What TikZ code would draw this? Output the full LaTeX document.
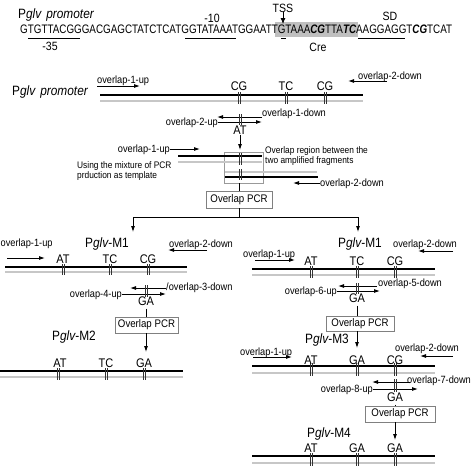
\documentclass[tikz,border=0pt]{standalone}
\usepackage{fontspec}
\setmainfont{Liberation Sans}[FakeStretch=0.88]
\usetikzlibrary{arrows.meta}
\newcommand\pgl{P{\itshape glv}}
\newcommand\bcg[1]{{\bfseries\itshape #1}}
\tikzset{
  dna/.style={line width=1.2pt, black},
  dnag/.style={line width=2.4pt, black!22},
  tk/.style={line width=0.5pt, black!80},
  prim/.style={-{Latex[length=6pt,width=4pt]}, line width=0.9pt},
  flow/.style={-{Latex[length=6pt,width=4pt]}, line width=0.8pt},
  fl/.style={line width=0.8pt},
  pl/.style={font=\fontsize{10.5}{12}\selectfont, inner sep=0, anchor=base west},
  pr/.style={font=\fontsize{10.5}{12}\selectfont, inner sep=0, anchor=base east},
  site/.style={font=\fontsize{12.5}{13}\selectfont, inner sep=0, anchor=center},
  ttl/.style={font=\fontsize{13.5}{15}\selectfont, inner sep=0, anchor=base west},
  note/.style={font=\fontsize{9.5}{11}\selectfont, inner sep=0, anchor=base west},
  pcr/.style={draw=black!50, line width=0.6pt, font=\fontsize{11}{12}\selectfont, inner sep=0, minimum width=66pt, minimum height=17pt},
  mk/.style={font=\fontsize{12}{13}\selectfont, inner sep=0, anchor=center}
}
\newcommand\dtk[3]{\draw[tk] (#1-1,#2)--(#1-1,#3) (#1+1,#2)--(#1+1,#3);}
\begin{document}
\begin{tikzpicture}[x=1pt,y=-1pt]
\useasboundingbox (0,0) rectangle (474,474);
% ---------- top sequence
\fill[black!25] (275,22) rectangle (358,37);
\node[ttl] (t0) at (18,18) {\pgl\hspace{5pt}{\itshape promoter}};
\node[inner sep=0, anchor=base west] (seq) at (20,33.5) {\resizebox{432pt}{8.6pt}{GTGTTACGGGACGAGCTATCTCATGGTATAAATGGAATTGTAAA\bcg{CG}TTA\bcg{TC}AAGGAGGT\bcg{CG}TCAT}};
\draw[line width=0.8pt] (28,38)--(80,38) (185,38)--(236,38) (358,38)--(405,38) (281,38)--(286,38);
\node[mk] (m35) at (50,46.5) {-35};
\node[mk] (m10) at (212,18.5) {-10};
\node[mk] (tss) at (283,8) {TSS};
\node[mk] (sd) at (390,16.5) {SD};
\node[mk] (cre) at (318,47.5) {Cre};
\coordinate (tssa) at (283,24);
\draw[-{Latex[length=6pt,width=5pt]}, line width=0.8pt] (tss.south) -- (tssa);
% ---------- promoter
\node[ttl] (p0) at (12,95) {\pgl\hspace{5pt}{\itshape promoter}};
\draw[dnag] (100,101)--(363,101);
\draw[dna] (100,95)--(363,95);
\dtk{239}{92}{104}\dtk{286}{92}{104}\dtk{325}{92}{104}
\node[site] (c1) at (239,86) {CG};
\node[site] (c2) at (286,86) {TC};
\node[site] (c3) at (325,86) {CG};
\node[pl] (o1u) at (97,83) {overlap-1-up};
\draw[prim] (97,86)--(140,86);
\node[pl] (o2d) at (358,79) {overlap-2-down};
\draw[prim] (387,81)--(348,81);
% mutation primers
\draw[prim] (262,117)--(217,117);
\draw[prim] (218,122)--(262,122);
\node[pl] (o1d) at (262,116.5) {overlap-1-down};
\node[pr] (o2u) at (218,125.5) {overlap-2-up};
\dtk{240}{114}{125}
\node[site] (at0) at (240,130) {AT};
\coordinate (ovtop) at (240,150);
\draw[flow] (at0.south) -- (ovtop);
\node[pr] (o1ub) at (170,152.5) {overlap-1-up};
\draw[prim] (170,149)--(200,149);
\node[draw=black!40, line width=0.5pt, minimum width=39pt, minimum height=31pt, inner sep=0] (ovbox) at (243.5,167.5) {};
\draw[dnag] (178,162)--(262,162);
\draw[dna] (178,156)--(262,156);
\draw[dnag] (225,172)--(317,172);
\draw[dna] (225,177)--(318,177);
\dtk{240}{153}{165}\dtk{240}{169}{180}
\node[note] (n1) at (265,153) {Overlap region between the};
\node[note] (n2) at (265,163) {two amplified fragments};
\node[note] (n3) at (77,168) {Using the mixture of PCR};
\node[note] (n4) at (77,178) {prduction as template};
\node[pl] (o2db) at (320,186.5) {overlap-2-down};
\draw[prim] (320,183)--(293,183);
\node[pcr] (pcr1) at (239,199.5) {Overlap PCR};
\draw[fl] (ovbox.south -| pcr1.north) -- (pcr1.north);
\coordinate (sp) at (239,217);
\coordinate (spl) at (133,217);
\coordinate (spr) at (358,217);
\coordinate (el) at (133,232);
\coordinate (er) at (358,232);
\draw[fl] (pcr1.south) -- (sp);
\draw[fl] (spl) -- (spr);
\draw[flow] (spl) -- (el);
\draw[flow] (spr) -- (er);
% ---------- left M1
\node[ttl] (lm1) at (85,247) {\pgl-M1};
\node[pl] (lo2d) at (169,247.5) {overlap-2-down};
\draw[prim] (207,250)--(168,250);
\node[pl] (lo1u) at (0.5,246.5) {overlap-1-up};
\draw[prim] (7,258)--(45,258);
\draw[dnag] (5,272)--(187,272);
\draw[dna] (5,267)--(187,267);
\dtk{63}{264}{275}\dtk{110}{264}{275}\dtk{148}{264}{275}
\node[site] (la1) at (63,259) {AT};
\node[site] (la2) at (110,259) {TC};
\node[site] (la3) at (148,259) {CG};
\draw[prim] (166,288)--(130,288);
\draw[prim] (122,294)--(166,294);
\node[pl] (lo3d) at (166,290.5) {/overlap-3-down};
\node[pr] (lo4u) at (122,297.5) {overlap-4-up};
\dtk{146}{285}{297}
\node[site] (lga) at (146,301) {GA};
\node[pcr, minimum width=63pt, minimum height=16pt] (pcr2) at (146.5,325) {Overlap PCR};
\draw[fl] (lga.south) ++(0,3) -- (pcr2.north -| lga.south);
\coordinate (lm2a) at (146,352);
\draw[flow] (pcr2.south -| lm2a) -- (lm2a);
\node[ttl] (lm2) at (52,340) {\pgl-M2};
\draw[dnag] (0,377)--(183,377);
\draw[dna] (0,371)--(183,371);
\dtk{58}{368}{380}\dtk{106}{368}{380}\dtk{144}{368}{380}
\node[site] (lb1) at (60,363) {AT};
\node[site] (lb2) at (106,363) {TC};
\node[site] (lb3) at (144,363) {GA};
% ---------- right M1
\node[ttl] (rm1) at (338,247) {\pgl-M1};
\node[pl] (ro2d) at (393,247.5) {overlap-2-down};
\draw[prim] (453,251)--(418,251);
\node[pl] (ro1u) at (243,257.5) {overlap-1-up};
\draw[prim] (255,260)--(295,260);
\draw[dnag] (252,275)--(435,275);
\draw[dna] (252,269)--(435,269);
\dtk{311}{266}{278}\dtk{357}{266}{278}\dtk{395}{266}{278}
\node[site] (ra1) at (311,261) {AT};
\node[site] (ra2) at (357,261) {TC};
\node[site] (ra3) at (395,261) {CG};
\draw[prim] (377,286)--(338,286);
\draw[prim] (337,291)--(380,291);
\node[pl] (ro5d) at (378,286.5) {overlap-5-down};
\node[pr] (ro6u) at (337,294.5) {overlap-6-up};
\dtk{357}{283}{294}
\node[site] (rga) at (357,298) {GA};
\node[pcr, minimum width=68pt, minimum height=15pt] (pcr3) at (360,323.5) {Overlap PCR};
\draw[fl] (rga.south) ++(0,3) -- (pcr3.north -| rga.south);
\coordinate (rm3a) at (357,348);
\draw[flow] (pcr3.south -| rm3a) -- (rm3a);
% ---------- M3
\node[ttl] (rm3) at (305,343) {\pgl-M3};
\node[pl] (r3o1u) at (240,355.5) {overlap-1-up};
\draw[prim] (253,357)--(292,357);
\node[pl] (r3o2d) at (395,351.5) {overlap-2-down};
\draw[prim] (453,356)--(420,356);
\draw[dnag] (252,373)--(435,373);
\draw[dna] (252,366)--(435,366);
\dtk{311}{363}{376}\dtk{357}{363}{376}\dtk{395}{363}{376}
\node[site] (rb1) at (311,360) {AT};
\node[site] (rb2) at (357,360) {GA};
\node[site] (rb3) at (395,360) {CG};
\draw[prim] (410,382)--(372,382);
\draw[prim] (373,389)--(418,389);
\node[pl] (r7d) at (407,383.5) {overlap-7-down};
\node[pr] (r8u) at (373,392.5) {overlap-8-up};
\dtk{395}{379}{392}
\node[site] (rga2) at (395,397) {GA};
\node[pcr, minimum width=70pt, minimum height=16pt] (pcr4) at (400,414) {Overlap PCR};
\draw[fl] (rga2.south) ++(0,3) -- (pcr4.north -| rga2.south);
\coordinate (rm4a) at (395,440);
\draw[flow] (pcr4.south -| rm4a) -- (rm4a);
% ---------- M4
\node[ttl] (rm4) at (307,437) {\pgl-M4};
\draw[dnag] (252,463)--(435,463);
\draw[dna] (252,456)--(435,456);
\dtk{311}{453}{466}\dtk{357}{453}{466}\dtk{395}{453}{466}
\node[site] (rc1) at (311,448) {AT};
\node[site] (rc2) at (357,448) {GA};
\node[site] (rc3) at (395,448) {GA};
\end{tikzpicture}
\end{document}
